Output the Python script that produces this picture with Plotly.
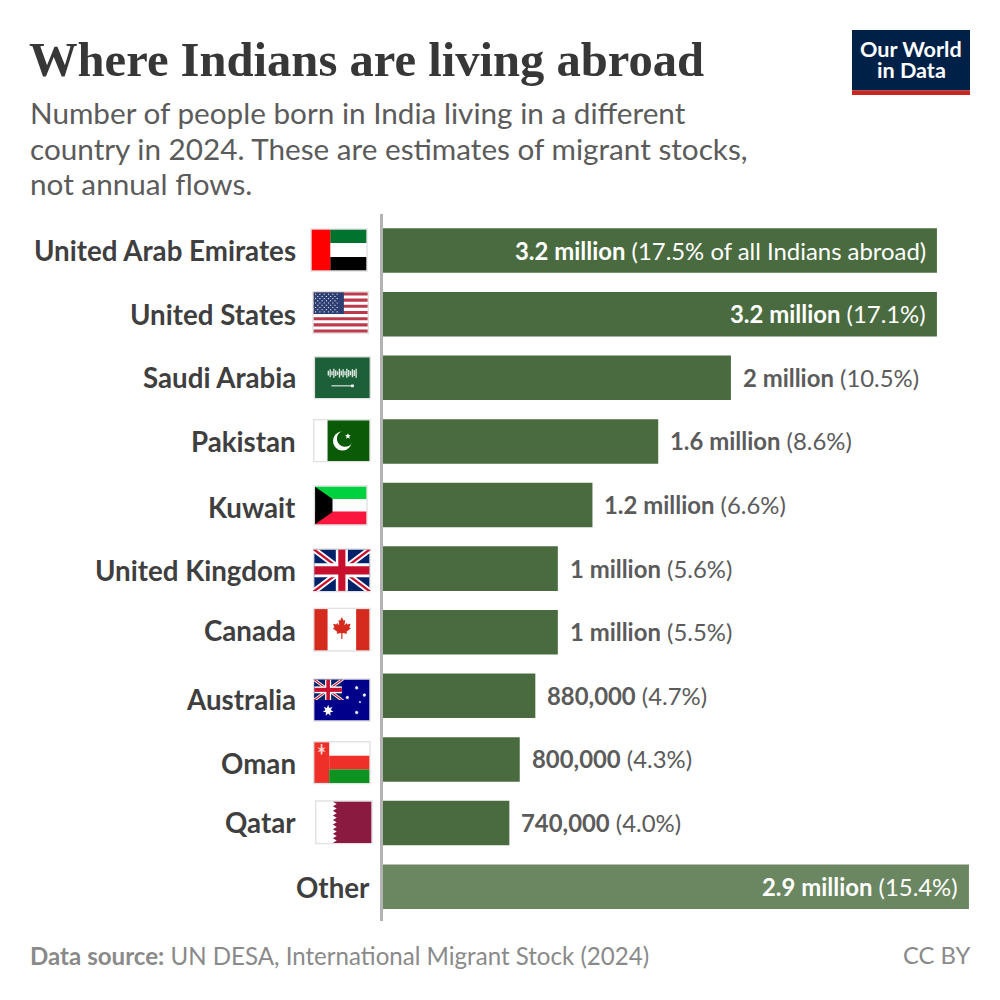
import math
import plotly.graph_objects as go

# Data
countries = ["United Arab Emirates", "United States", "Saudi Arabia", "Pakistan", "Kuwait",
             "United Kingdom", "Canada", "Australia", "Oman", "Qatar", "Other"]
# drawn lengths in millions (the "Other" bar is drawn longer than its 2.9 million label)
bar_millions = [3.2, 3.2, 2.01, 1.59, 1.21, 1.01, 1.01, 0.88, 0.79, 0.73, 3.385]
value_labels = ["3.2 million", "3.2 million", "2 million", "1.6 million", "1.2 million",
                "1 million", "1 million", "880,000", "800,000", "740,000", "2.9 million"]
share_labels = ["17.5% of all Indians abroad", "17.1%", "10.5%", "8.6%", "6.6%",
                "5.6%", "5.5%", "4.7%", "4.3%", "4.0%", "15.4%"]
subtitle_lines = ["Number of people born in India living in a different",
                  "country in 2024. These are estimates of migrant stocks,",
                  "not annual flows."]

FONT = "Lato"
BAR = "#4a6b40"
BAR_OTHER = "#6a8762"
DARK = "#3f3f3f"
GREY = "#5b5b5b"
FOOT = "#8a8a8a"
# the country names do not sit exactly on the bar centres in the original
label_nudge = [0, 0, 0, 0, 2, 2, -2, 4, 4, -1, 1]


def px(x):
    return x / 1000


def py(y):
    return 1 - y / 1000


shapes = []


def rect(u0, v0, u1, v1):
    return [(u0, v0), (u1, v0), (u1, v1), (u0, v1)]


def ellipse(cu, cv, ru, rv):
    return [(cu + ru * math.cos(i * math.pi / 12), cv + rv * math.sin(i * math.pi / 12)) for i in range(24)]


def star(cu, cv, ru, rv, points=5, inner=0.45):
    pts = []
    for i in range(points * 2):
        r = 1 if i % 2 == 0 else inner
        a = -math.pi / 2 + i * math.pi / points
        pts.append((cu + ru * r * math.cos(a), cv + rv * r * math.sin(a)))
    return pts


def flag(box, parts):
    # box is the outer frame in pixels, parts are (colour, polygons) in 0..1 flag units
    x0, y0, x1, y1 = box
    shapes.append(dict(type="rect", xref="paper", yref="paper", x0=px(x0), x1=px(x1), y0=py(y0), y1=py(y1),
                       fillcolor="#e2e2e2", line_width=0, layer="above"))
    ix0, iy0, iw, ih = x0 + 1.4, y0 + 1.4, x1 - x0 - 2.8, y1 - y0 - 2.8
    for color, polys in parts:
        # one shape per polygon, overlapping subpaths in one path leave holes
        for poly in polys:
            pts = [f"{px(ix0 + u * iw):.5f},{py(iy0 + v * ih):.5f}" for u, v in poly]
            shapes.append(dict(type="path", xref="paper", yref="paper", path="M" + " L".join(pts) + " Z",
                               fillcolor=color, line_width=0, layer="above"))


def union_jack(u0, v0, u1, v1):
    w, h = u1 - u0, v1 - v0

    def band(a, b, t):
        # diagonal band between two corners, half width t
        return [(a[0] - t * w, a[1]), (a[0] + t * w, a[1]), (b[0] + t * w, b[1]), (b[0] - t * w, b[1])]

    tl, tr, bl, br = (u0, v0), (u1, v0), (u0, v1), (u1, v1)
    cu, cv = u0 + w / 2, v0 + h / 2
    return [
        ("#012169", [rect(u0, v0, u1, v1)]),
        ("#ffffff", [band(tl, br, 0.09), band(tr, bl, 0.09)]),
        ("#c8102e", [band(tl, br, 0.035), band(tr, bl, 0.035)]),
        ("#ffffff", [rect(cu - 0.11 * w, v0, cu + 0.11 * w, v1), rect(u0, cv - 0.17 * h, u1, cv + 0.17 * h)]),
        ("#c8102e", [rect(cu - 0.065 * w, v0, cu + 0.065 * w, v1), rect(u0, cv - 0.1 * h, u1, cv + 0.1 * h)]),
    ]


# UAE
flag((310.3, 228.3, 367.7, 271.7), [
    ("#00732f", [rect(0.34, 0, 1, 0.34)]),
    ("#ffffff", [rect(0.34, 0.33, 1, 0.67)]),
    ("#000000", [rect(0.34, 0.67, 1, 1)]),
    ("#ff0000", [rect(0, 0, 0.34, 1)]),
])

# USA
us_stripes = [rect(0, i / 13, 1, (i + 1) / 13) for i in range(0, 13, 2)]
us_stars = []
for row in range(9):
    for col in range(6 if row % 2 == 0 else 5):
        cu = 0.035 + col * 0.08 + (0 if row % 2 == 0 else 0.04)
        cv = 0.045 + row * 0.055
        us_stars.append(ellipse(cu, cv, 0.011, 0.014))
flag((312.3, 291, 369, 334), [
    ("#ffffff", [rect(0, 0, 1, 1)]),
    ("#bb3a4c", us_stripes),
    ("#2c3e72", [rect(0, 0, 0.56, 7 / 13)]),
    ("#ffffff", us_stars),
])

# Saudi Arabia
script_heights = [0.06, 0.1, 0.05, 0.11, 0.07, 0.04, 0.11, 0.06, 0.1, 0.05, 0.11, 0.08, 0.05, 0.1, 0.07, 0.11]
script = [rect(0.23 + i * 0.034, 0.39 - h, 0.255 + i * 0.034, 0.39 + h) for i, h in enumerate(script_heights)]
flag((313.7, 356, 371, 399.3), [
    ("#1c5f38", [rect(0, 0, 1, 1)]),
    ("#dfe9e2", script),
    ("#ffffff", [rect(0.3, 0.69, 0.7, 0.715), rect(0.66, 0.67, 0.71, 0.735)]),
])

# Pakistan
flag((313, 419, 370.7, 462.3), [
    ("#ffffff", [rect(0, 0, 0.24, 1)]),
    ("#0b5a08", [rect(0.24, 0, 1, 1)]),
    ("#ffffff", [ellipse(0.51, 0.51, 0.17, 0.235)]),
    ("#0b5a08", [ellipse(0.56, 0.45, 0.15, 0.2)]),
    ("#ffffff", [star(0.61, 0.39, 0.055, 0.075)]),
])

# Kuwait
flag((313.7, 485.3, 367.7, 525.7), [
    ("#00d23f", [rect(0, 0, 1, 0.34)]),
    ("#ffffff", [rect(0, 0.33, 1, 0.67)]),
    ("#f9173d", [rect(0, 0.66, 1, 1)]),
    ("#000000", [[(0, 0), (0.34, 0.33), (0.34, 0.67), (0, 1)]]),
])

# United Kingdom
flag((313, 548.3, 370.7, 592.3), union_jack(0, 0, 1, 1))

# Canada
leaf_half = [(0, 1.0), (0.16, 0.68), (0.3, 0.76), (0.24, 0.28), (0.42, 0.5), (0.5, 0.36), (0.8, 0.42), (0.68, 0.12),
             (0.82, 0.04), (0.42, -0.24), (0.48, -0.4), (0.06, -0.34), (0.05, -0.85)]
leaf_pts = leaf_half + [(-a, b) for a, b in reversed(leaf_half[1:])]
leaf = [(0.5 + a * 0.2, 0.48 - b * 0.29) for a, b in leaf_pts]
flag((313, 607.7, 370.7, 651.7), [
    ("#ffffff", [rect(0, 0, 1, 1)]),
    ("#d52b1e", [rect(0, 0, 0.24, 1), rect(0.76, 0, 1, 1), leaf]),
])

# Australia
flag((313, 678.3, 370.7, 721.7), [
    ("#00008b", [rect(0, 0, 1, 1)]),
    *union_jack(0, 0, 0.5, 0.5),
    ("#ffffff", [star(0.25, 0.76, 0.1, 0.14, points=7, inner=0.5),
                 star(0.77, 0.2, 0.04, 0.055, points=7, inner=0.5),
                 star(0.6, 0.44, 0.04, 0.055, points=7, inner=0.5),
                 star(0.91, 0.38, 0.04, 0.055, points=7, inner=0.5),
                 star(0.83, 0.55, 0.025, 0.035, inner=0.5),
                 star(0.77, 0.81, 0.04, 0.055, points=7, inner=0.5)]),
])

# Oman
flag((313, 741, 370.7, 784.3), [
    ("#ffffff", [rect(0.26, 0, 1, 0.33)]),
    ("#ef3029", [rect(0, 0, 0.27, 1), rect(0.27, 0.33, 1, 0.67)]),
    ("#0d9320", [rect(0.27, 0.67, 1, 1)]),
    ("#f9d6d2", [star(0.13, 0.18, 0.09, 0.12, points=6, inner=0.35), rect(0.115, 0.04, 0.145, 0.3)]),
])

# Qatar
serrated = [(1, 0), (1, 1), (0.3, 1)]
for i in range(9):
    serrated += [(0.37, 1 - (i + 0.5) / 9), (0.3, 1 - (i + 1) / 9)]
flag((315, 800.3, 372.7, 844.3), [
    ("#ffffff", [rect(0, 0, 0.4, 1)]),
    ("#8a1a3f", [serrated]),
])

fig = go.Figure(go.Bar(
    x=bar_millions,
    y=countries,
    orientation="h",
    width=0.7,
    marker=dict(color=[BAR] * 10 + [BAR_OTHER], line_width=0),
    hoverinfo="skip",
))

annotations = []
for i, name in enumerate(countries):
    annotations.append(dict(
        # "Other" has no flag, so its name runs up to the axis
        x=px(372 if name == "Other" else 298), xref="paper", xanchor="right", y=name, yref="y",
        yshift=-label_nudge[i], showarrow=False,
        text=f"<b>{name}</b>", font=dict(family=FONT, size=27.7, color=DARK),
    ))
    inside = bar_millions[i] > 3
    annotations.append(dict(
        x=bar_millions[i], xref="x", y=name, yref="y", yshift=0.5, showarrow=False,
        xanchor="right" if inside else "left", xshift=-9 if inside else 10,
        text=f"<b>{value_labels[i]}</b> ({share_labels[i]})",
        font=dict(family=FONT, size=23.9, color="#ffffff" if inside else GREY),
    ))

for line, y in zip(subtitle_lines, [113, 148, 184]):
    annotations.append(dict(x=px(27.5), y=py(y), xref="paper", yref="paper", xanchor="left", yanchor="middle",
                            showarrow=False, text=line, font=dict(family=FONT, size=29.7, color=GREY)))

annotations += [
    dict(x=px(27.5), y=py(955), xref="paper", yref="paper", xanchor="left", yanchor="middle", showarrow=False,
         text="<b>Data source:</b> UN DESA, International Migrant Stock (2024)",
         font=dict(family=FONT, size=24.1, color=FOOT)),
    dict(x=px(972), y=py(955), xref="paper", yref="paper", xanchor="right", yanchor="middle", showarrow=False,
         text="CC BY", font=dict(family=FONT, size=23.8, color=FOOT)),
    dict(x=px(911), y=py(49), xref="paper", yref="paper", xanchor="center", yanchor="middle", showarrow=False,
         text="<b>Our World</b>", font=dict(family=FONT, size=21.6, color="#ffffff")),
    dict(x=px(911), y=py(70), xref="paper", yref="paper", xanchor="center", yanchor="middle", showarrow=False,
         text="<b>in Data</b>", font=dict(family=FONT, size=21.6, color="#ffffff")),
]

# logo sits under its text
shapes.append(dict(type="rect", xref="paper", yref="paper", x0=px(852), x1=px(970), y0=py(30), y1=py(90.5),
                   fillcolor="#002147", line_width=0, layer="below"))
shapes.append(dict(type="rect", xref="paper", yref="paper", x0=px(852), x1=px(970), y0=py(90.5), y1=py(95),
                   fillcolor="#ce261e", line_width=0, layer="below"))

fig.update_layout(
    width=1000,
    height=1000,
    margin=dict(l=0, r=0, t=0, b=0),
    paper_bgcolor="#ffffff",
    plot_bgcolor="rgba(0,0,0,0)",
    showlegend=False,
    title=dict(text="<b>Where Indians are living abroad</b>", x=px(29), xanchor="left", xref="paper",
               y=py(59), yanchor="middle", yref="container",
               font=dict(family="Liberation Serif", size=48.6, color="#373737")),
    xaxis=dict(domain=[px(383), 1], range=[0, 617 / 173.1], visible=False),
    yaxis=dict(domain=[py(921), py(214)], range=[10.54, -0.575], type="category",
               categoryorder="array", categoryarray=countries,
               showticklabels=False, ticks="", showgrid=False, zeroline=False,
               showline=True, linecolor="#b3b3b3", linewidth=2.5),
    annotations=annotations,
    shapes=shapes,
)

fig.write_html("out.html", config=dict(displayModeBar=False), post_script="document.body.style.margin='0';")
